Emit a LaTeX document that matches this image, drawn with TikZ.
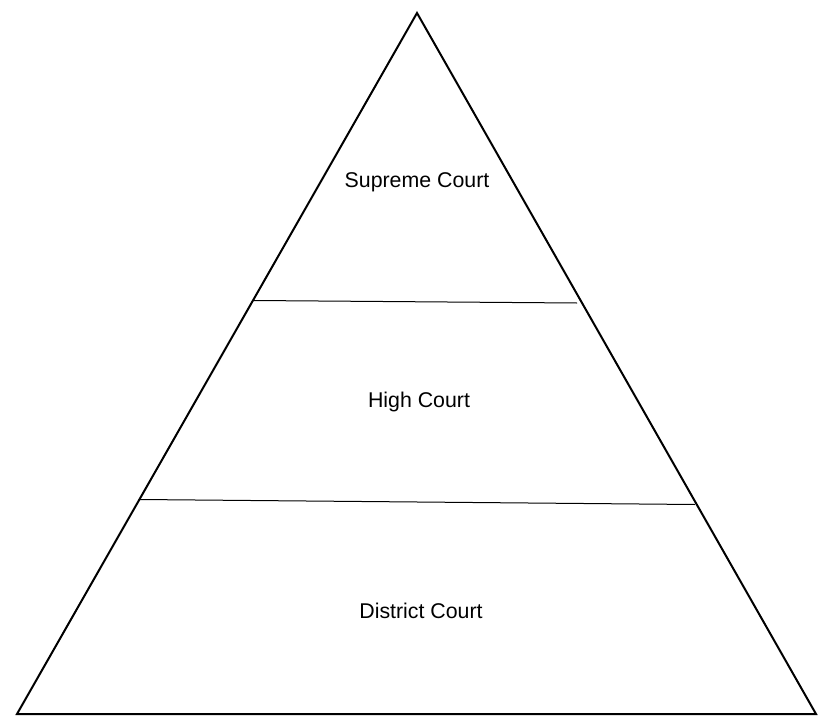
\documentclass[tikz,border=0pt]{standalone}
\usepackage{fontspec}
\setmainfont{Liberation Sans}
\usetikzlibrary{calc}

\begin{document}
\begin{tikzpicture}[
  x=0.75pt, y=-0.75pt,
  outline/.style={draw=black, line width=1.5pt, line join=miter},
  divider/.style={draw=black, line width=0.75pt},
  tier/.style={font=\fontsize{16}{18}\selectfont, inner sep=0pt},
]
\useasboundingbox (0,0) rectangle (829,728);

% --- the pyramid outline: apex and the two base corners
\coordinate (apex) at (417,13);
\coordinate (bl)   at (17,714);
\coordinate (br)   at (816,714);
\draw[outline] (bl) -- (apex) -- (br) -- cycle;

% --- the two dividers between tiers (slightly off level)
\coordinate (t1l) at (254,300.5);
\coordinate (t1r) at (577,303);
\coordinate (t2l) at (140,499.5);
\coordinate (t2r) at (695,504.5);
\draw[divider] (t1l) -- (t1r);
\draw[divider] (t2l) -- (t2r);

% --- tier labels, top to bottom
\node[tier] (supreme)  at (417,182) {Supreme Court};
\node[tier] (high)     at (419,402) {High Court};
\node[tier] (district) at (421,611) {District Court};

\end{tikzpicture}
\end{document}
